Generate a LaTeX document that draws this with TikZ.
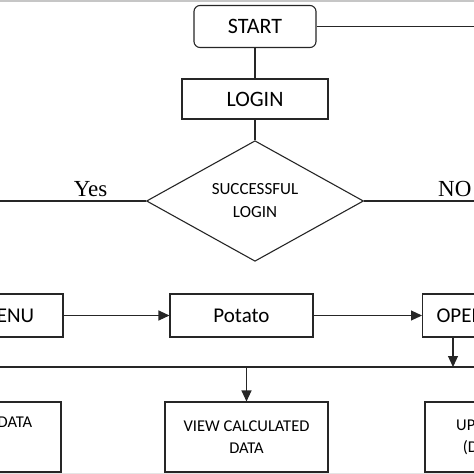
\documentclass[tikz,border=0pt]{standalone}
\usepackage{fontspec}
\newfontfamily\boxfont{Carlito}
\newfontfamily\tagfont{Liberation Serif}
\usetikzlibrary{shapes.geometric,arrows.meta}

\begin{document}
\begin{tikzpicture}
[every node/.style={inner sep=0pt},
 box/.style={rectangle, draw=black!85, line width=1.1pt, fill=white, font=\boxfont\fontsize{21}{25}\selectfont},
 bigbox/.style={box, font=\boxfont\fontsize{22}{26}\selectfont},
 smallbox/.style={box, align=center, minimum width=163pt, minimum height=70pt, font=\boxfont\fontsize{16.5}{22}\selectfont},
 tag/.style={anchor=base, font=\tagfont\fontsize{23}{23}\selectfont},
 link/.style={line width=1.1pt, draw=black!85},
 flow/.style={link, -{Triangle[length=11pt, width=10pt]}}]
\useasboundingbox (0pt, 0pt) rectangle (474pt, -474pt);
\clip (0pt, 0pt) rectangle (474pt, -474pt);

% login part
\node (start) [bigbox, rounded corners=6pt, minimum width=122pt, minimum height=42pt] at (255pt, -26.5pt) {START};
\node (login) [bigbox, minimum width=146pt, minimum height=40pt] at (255pt, -99pt) {LOGIN};
\node (check) [diamond, draw=black!85, line width=1.1pt, minimum width=217pt, minimum height=112pt, align=center, font=\boxfont\fontsize{17}{23}\selectfont] at (255pt, -201pt) {SUCCESSFUL\\LOGIN};
\node (yes) [tag] at (90.5pt, -196pt) {Yes};
\node (no) [tag, anchor=base west] at (438pt, -196pt) {NO};
\coordinate (startend) at (480pt, -26.5pt);
\coordinate (yesend) at (-5pt, -201pt);
\coordinate (noend) at (480pt, -201pt);
\draw [link] (start) -- (login);
\draw [link] (login) -- (check);
\draw [link] (start) -- (startend);
\draw [link] (check) -- (yesend);
\draw [link] (check) -- (noend);

% menu row
\node (menu) [box, minimum width=113pt, minimum height=43pt] at (6.5pt, -315.5pt) {MENU};
\node (potato) [box, minimum width=143pt, minimum height=43pt] at (241.5pt, -315.5pt) {Potato};
\node (ops) [box, anchor=west, inner xsep=14pt, minimum height=43pt] at (422pt, -315.5pt) {OPERATIONS};
\draw [flow] (menu) -- (potato);
\draw [flow] (potato) -- (ops);

% bus line
\coordinate (busL) at (-5pt, -367pt);
\coordinate (busR) at (480pt, -367pt);
\coordinate (drop) at (453pt, -367pt);
\draw [link] (busL) -- (busR);
\draw [flow] (ops.south -| drop) -- (drop);

% bottom row
\node (input) [smallbox, minimum width=138pt] at (-8pt, -437pt) {INPUT DATA\\\strut};
\node (view) [smallbox] at (246.5pt, -437pt) {VIEW CALCULATED\\DATA};
\node (update) [smallbox, minimum width=154pt] at (502pt, -437pt) {UPDATE DATA\\(DATABASE)};
\draw [flow] (view.north |- busL) -- (view);

% page edges
\fill [gray!45] (0pt, 0pt) rectangle (474pt, -2pt);
\fill [gray!20] (0pt, -472.5pt) rectangle (474pt, -474pt);
\end{tikzpicture}
\end{document}
